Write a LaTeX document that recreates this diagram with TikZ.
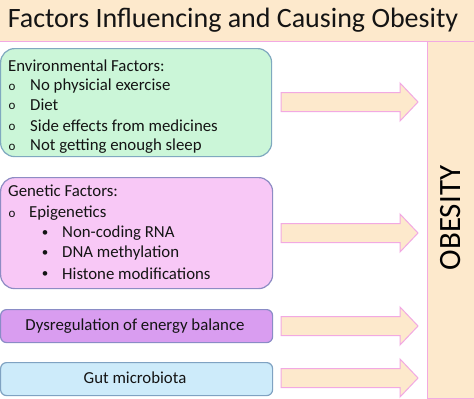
\documentclass[tikz,border=0pt]{standalone}
\usepackage{fontspec}
\setmainfont{Carlito}
\usetikzlibrary{positioning}
\definecolor{peach}{HTML}{FDE9CC}
\definecolor{pinkline}{HTML}{F2A9E2}
\definecolor{greenfill}{HTML}{CBF6D8}
\definecolor{greenline}{HTML}{7FA9BF}
\definecolor{pinkfill}{HTML}{F8C8F6}
\definecolor{pinkbord}{HTML}{8E8CC4}
\definecolor{purplefill}{HTML}{D99DF0}
\definecolor{purplebord}{HTML}{8A8CC6}
\definecolor{bluefill}{HTML}{CDEBFA}
\definecolor{bluebord}{HTML}{7FA2C2}
\definecolor{txt}{HTML}{141414}
\tikzset{
  box/.style={draw, line width=1.2pt, anchor=north west, inner sep=0pt},
  line/.style={anchor=west, inner sep=0pt, font=\fontsize{16.8}{19}\selectfont, text=txt},
  bul/.style={inner sep=0pt, font=\fontsize{13}{15}\selectfont, text=txt},
  ctr/.style={inner sep=0pt, font=\fontsize{16.8}{19}\selectfont, text=txt},
  blockarrow/.style={draw=pinkline, fill=peach, line width=1pt},
  barrow/.pic={\draw[blockarrow] (0,-9.5) -- (119,-9.5) -- (119,-19) -- (137,0) -- (119,19) -- (119,9.5) -- (0,9.5) -- cycle;}
}
\begin{document}
\begin{tikzpicture}[x=1pt,y=-1pt]
\useasboundingbox (0,0) rectangle (474,399);
\fill[white] (0,0) rectangle (474,399);
% title band
\fill[peach] (0,0) rectangle (474,41);
\draw[pinkline, line width=1pt] (0,41) -- (474,41);
\node[inner sep=0pt, font=\fontsize{28}{31}\selectfont, text=txt] (title) at (233,20) {Factors Influencing and Causing Obesity};
% obesity box
\draw[draw=pinkline, fill=peach, line width=1pt] (427,41) rectangle (476,398);
\node[rotate=90, inner sep=0pt, font=\fontsize{31}{34}\selectfont, text=black] (obesity) at (451,218) {OBESITY};
% boxes
\node[box, draw=greenline, fill=greenfill, rounded corners=14pt, minimum width=271pt, minimum height=108pt] (env) at (0,48) {};
\node[box, draw=pinkbord, fill=pinkfill, rounded corners=14pt, minimum width=272pt, minimum height=111pt] (gen) at (0,177) {};
\node[box, draw=purplebord, fill=purplefill, rounded corners=6pt, minimum width=272pt, minimum height=33pt] (dys) at (0,309) {};
\node[box, draw=bluebord, fill=bluefill, rounded corners=6pt, minimum width=272pt, minimum height=33pt] (gut) at (0,362) {};
% environmental text
\node[line] (e0) at (8,66) {Environmental Factors:};
\node[bul] (e1b) at (12,87) {o};
\node[line] (e1) at (30,86) {No physicial exercise};
\node[bul] (e2b) at (12,106) {o};
\node[line] (e2) at (30,105) {Diet};
\node[bul] (e3b) at (12,127) {o};
\node[line] (e3) at (30,126) {Side effects from medicines};
\node[bul] (e4b) at (12,147) {o};
\node[line] (e4) at (30,146) {Not getting enough sleep};
% genetic text
\node[line] (g0) at (8,191) {Genetic Factors:};
\node[bul] (g1b) at (12,214) {o};
\node[line] (g1) at (29,213) {Epigenetics};
\node[bul] (g2b) at (45,234) {•};
\node[line] (g2) at (62,233) {Non-coding RNA};
\node[bul] (g3b) at (45,254) {•};
\node[line] (g3) at (62,253) {DNA methylation};
\node[bul] (g4b) at (45,275) {•};
\node[line] (g4) at (62,274) {Histone modifications};
% single lines
\node[ctr] (dyst) at (135,326) {Dysregulation of energy balance};
\node[ctr] (gutt) at (135,378) {Gut microbiota};
% arrows
\pic at (281,102) {barrow};
\pic at (281,233) {barrow};
\pic at (281,326) {barrow};
\pic at (281,378) {barrow};
\end{tikzpicture}
\end{document}
